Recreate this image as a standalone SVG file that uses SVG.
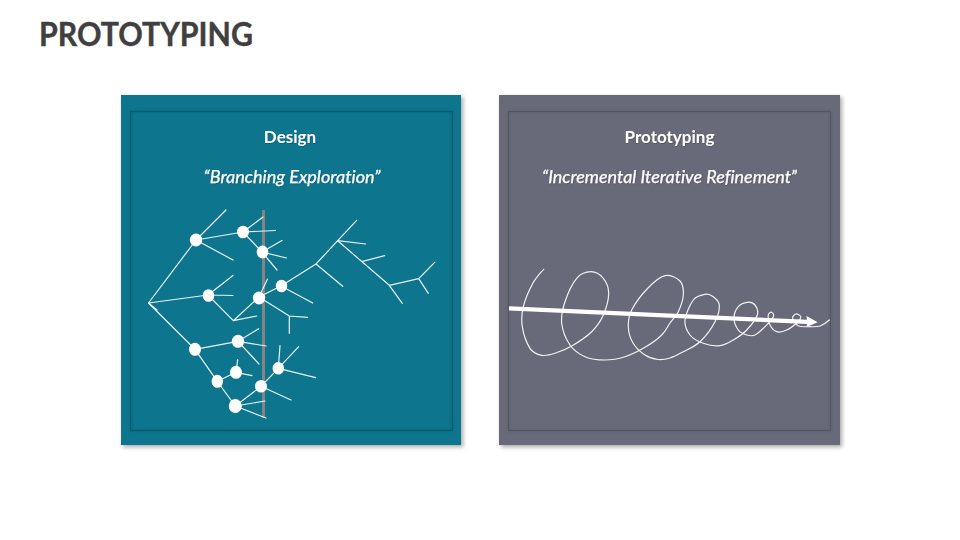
<svg xmlns="http://www.w3.org/2000/svg" width="960" height="540" viewBox="0 0 960 540">
<style>
text{font-family:Lato,"Liberation Sans",sans-serif;fill:#fff;text-anchor:middle;font-variant-ligatures:none}
.title{font-size:32px;font-weight:700;fill:#404040;stroke:#404040;stroke-width:.4;text-anchor:start}
.h{font-size:17px;font-weight:700}
.q{font-size:18px;font-weight:400;font-style:italic;stroke:#fff;stroke-width:.25}
.br{fill:none;stroke:#e8f2f4;stroke-width:1.2;stroke-linecap:round;stroke-linejoin:round}
.n{fill:#fff}
.in{fill:none}
</style>
<defs>
<filter id="sh" x="-5%" y="-5%" width="112%" height="112%"><feDropShadow dx="2" dy="2" stdDeviation="2" flood-color="#000" flood-opacity=".35"/></filter>
<filter id="bl" x="-3%" y="-3%" width="106%" height="106%"><feGaussianBlur stdDeviation="1.200"/></filter>
<filter id="ts" x="-5%" y="-20%" width="110%" height="140%"><feDropShadow dx="0.5" dy="0.6" stdDeviation="0.4" flood-color="#000" flood-opacity=".3"/></filter>
</defs>
<rect width="960" height="540" fill="#fff"/>
<text id="title" class="title" x="39" y="46" textLength="214" lengthAdjust="spacingAndGlyphs">PROTOTYPING</text>

<g id="panel-design">
<rect x="121" y="95" width="340" height="350" fill="#07768e" filter="url(#sh)"/>
<rect class="in" x="131" y="111.500" width="321" height="319" stroke="#055a6c" stroke-width="2" stroke-opacity=".5" filter="url(#bl)"/>
<rect class="in" x="130.500" y="111.500" width="322" height="319" stroke="#05596b" stroke-width="1"/>
<text class="h" x="290" y="143" filter="url(#ts)">Design</text>
<text class="q" x="292" y="182.500" textLength="177" lengthAdjust="spacingAndGlyphs" filter="url(#ts)">“Branching Exploration”</text>
</g>
<g id="panel-prototyping">
<rect x="499" y="95" width="341" height="350" fill="#696a79" filter="url(#sh)"/>
<rect class="in" x="508.500" y="111.500" width="322" height="319" stroke="#505161" stroke-width="2" stroke-opacity=".5" filter="url(#bl)"/>
<rect class="in" x="508.500" y="111.500" width="322" height="319" stroke="#535463" stroke-width="1"/>
<text class="h" x="669.500" y="143" filter="url(#ts)">Prototyping</text>
<text class="q" x="669.500" y="182.500" textLength="255" lengthAdjust="spacingAndGlyphs" filter="url(#ts)">“Incremental Iterative Refinement”</text>
</g>

<rect id="trunk" x="262" y="210" width="3" height="208" fill="#8a8280"/>

<g id="connectors">
<path class="br" d="M157 310L148.500 303L196 240M196 240L226 210M196 240L243 232M196 240L233 260M243 232L263 217M243 232L275.500 230.500M243 232L262 252M262 252L282 240.500M262 252L286.500 258M262 252L277 270"/>
<path class="br" d="M148.500 303L208 295M208 295L233 275.500M208 295L233 295.500M208 295L233.300 320.700M233.300 320.700L256.700 316M233.300 320.700L259 297M259 297L267.500 279M259 297L281 286M259 297L289.300 316M289.300 316L307.700 317.300M289.300 316L289.300 333.300"/>
<path class="br" d="M281 286L312.700 303M281 286L316 264M316 264L342.700 286.300M316 264L337.700 240.700M337.700 240.700L356.700 220.300M337.700 240.700L365.700 244M337.700 240.700L389.300 285.300M361.700 261.700L384.700 255.700M389.300 285.300L402.300 303.300M389.300 285.300L418.700 278.700M418.700 278.700L434.700 262.300M418.700 278.700L428.300 293.300"/>
<path class="br" d="M148.500 303L195 349.300M195 349.300L238 341.300M238 341.300L258.700 328.700M238 341.300L266 346M238 341.300L259 364M195 349.300L217.300 381.300M217.300 381.300L236 372.300M236 372.300L237.700 359.700M236 372.300L252 375.700M217.300 381.300L235.300 406M235.300 406L261 386.300M235.300 406L265 401M235.300 406L266 418M261 386.300L278.300 368.300M261 386.300L291 400M278.300 368.300L298.700 346.700M278.300 368.300L280 345.700M278.300 368.300L315.700 377.700"/>
<path id="spiral" d="M543.700 269.300C543.700 269.300 536.400 276.800 533 283S525.100 299.400 523.300 306.700S521.200 319.800 522.300 326.700S526.800 343.500 530 348.300S537.500 354.500 541.700 355.300S550 354.900 555 353.300S565.600 349.600 571.700 346S586.400 336.900 591.700 331.700S600.500 321.400 603.300 315S608.700 299.400 608.700 293.300S606.300 281.900 603.300 278.300S595.400 271.700 591 271.700S581 273.300 576.700 278.300S567.500 294.200 565 301.700S560.900 316.100 561.700 323.300S566.100 339.400 570 345S579.200 354.200 585 356.700S598.300 360 605 360S618.300 358.800 625 356.700S638.900 350.900 645 347.300S657.500 339.100 661.700 335S667.200 326.900 670 323S676.100 316.400 678.300 311.700S683 300.100 683.300 295S683 284.200 680 281S670.300 274.500 665 275.700S653.600 282.300 648 288S635 303.500 631.700 310S628.100 321.200 628.300 326.700S630.200 338.300 633 343S640.800 352.200 645 355S653.800 359 658 359.500S665.800 359.300 670 358S678.300 354.400 683.300 351.700S694.700 346.700 700 341.700S711.800 327.800 715 321.700S719.600 309.200 719.300 305S715.700 298.500 713.300 296.700S708.300 293.700 705 294.300S696.600 295.700 693.300 300S685.600 314.200 685 320S687 331.100 690 335S698.300 341.500 703.300 343.300S715 346.300 720 345.700S728.800 342.600 733.300 340S742.700 334.200 746.700 330S755.900 319.200 757.300 315S756.700 307.100 755 305S750.100 302 747.300 302.300S740.500 304.100 738.300 306.700S734 314.100 734 318S736.200 327.200 738.300 330S743.900 334.200 746.700 335S751.900 336.400 755 335S761.900 329.800 765 326.700S772.200 319.100 773.300 316.700S772.500 312.600 771.700 312.300S768.600 312.900 768.300 315S768.600 322.200 770 325S773.900 330.900 776.700 331.700S783.100 331.700 786.700 330S795.700 323.900 798 321.700S801 318 800.700 316.700S797.300 313.700 796 314S792.300 316.300 792.700 318.300S795.400 324.300 798.300 325.700S806.400 326.700 810 326.700S816.800 327.100 820 326S826 323 829.300 320" fill="none" stroke="#f2f2f4" stroke-width="1.200" stroke-linecap="round"/>
<polygon id="arrow" points="509,306.200 807,319.800 806.500,316 817.700,322.300 806.500,327 807,324 509,310.500" fill="#fff"/>
</g>

<g id="node-1"><ellipse class="n" cx="196" cy="240" rx="6.200" ry="6.500"/></g>
<g id="node-2"><ellipse class="n" cx="243" cy="232" rx="6" ry="6.300"/></g>
<g id="node-3"><ellipse class="n" cx="262.500" cy="252" rx="5.800" ry="6.500"/></g>
<g id="node-4"><ellipse class="n" cx="208.500" cy="295.500" rx="5.800" ry="6.300"/></g>
<g id="node-5"><ellipse class="n" cx="259" cy="298" rx="6.200" ry="6.500"/></g>
<g id="node-6"><ellipse class="n" cx="281.500" cy="286" rx="5.700" ry="6.300"/></g>
<g id="node-7"><ellipse class="n" cx="195" cy="349.300" rx="6" ry="6.500"/></g>
<g id="node-8"><ellipse class="n" cx="238" cy="341.300" rx="6.200" ry="6.500"/></g>
<g id="node-9"><ellipse class="n" cx="217.300" cy="381.300" rx="5.700" ry="6.500"/></g>
<g id="node-10"><ellipse class="n" cx="236" cy="372.300" rx="6" ry="6.500"/></g>
<g id="node-11"><ellipse class="n" cx="261" cy="386.300" rx="6" ry="6.300"/></g>
<g id="node-12"><ellipse class="n" cx="278.300" cy="368.300" rx="5.700" ry="6.300"/></g>
<g id="node-13"><ellipse class="n" cx="235.300" cy="406" rx="6.500" ry="7"/></g>
</svg>
